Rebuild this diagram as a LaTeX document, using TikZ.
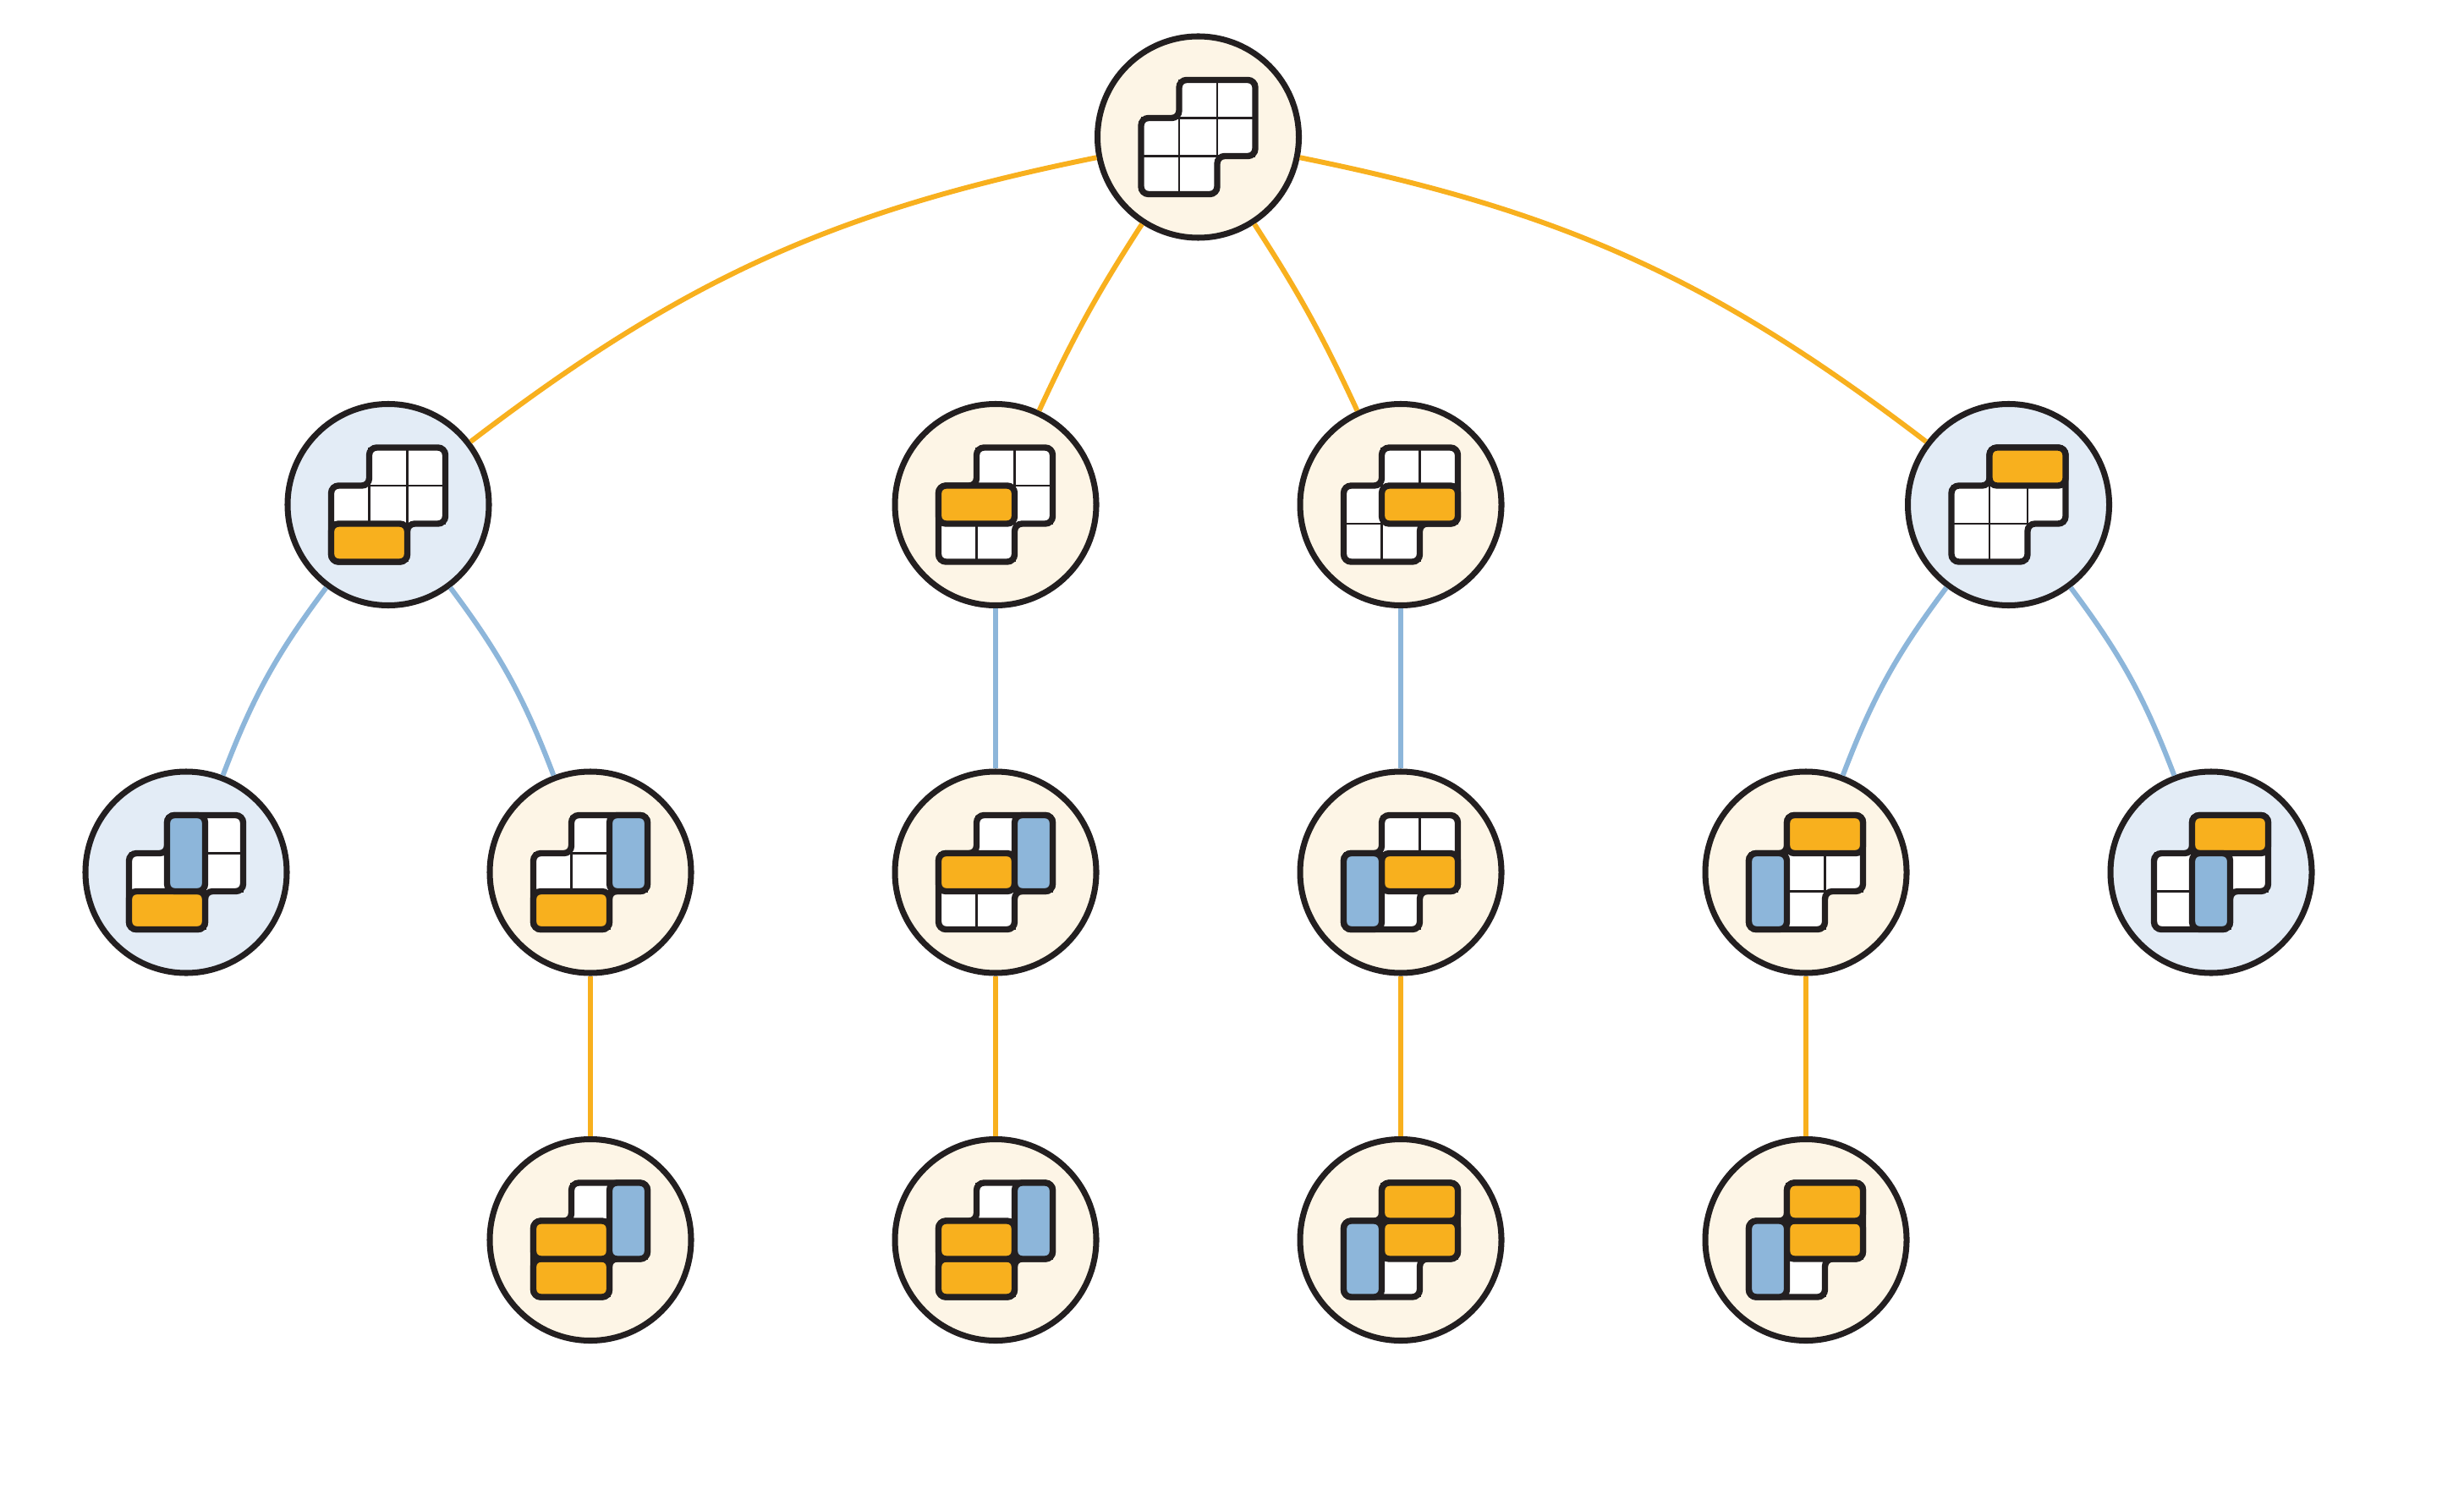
\documentclass[tikz,border=0pt]{standalone}
\usetikzlibrary{arrows.meta}
\definecolor{tbcream}{HTML}{FDF5E6}
\definecolor{tbpale}{HTML}{E3ECF6}
\definecolor{tborange}{HTML}{F8B01E}
\definecolor{tbblue}{HTML}{8DB6DA}
\definecolor{tbink}{HTML}{231F20}

% empty 7-cell board centred on a node, #2 = pieces laid on it
\newcommand{\tilingboard}[2]{%
  \begin{scope}[shift={(#1.center)}, x=0.45cm, y=0.45cm, shift={(-1.5,-1.5)}]
    \fill[white] (0,0) -- (2,0) -- (2,1) -- (3,1) -- (3,3) -- (1,3) -- (1,2) -- (0,2) -- cycle;
    \draw[gridline] (1,0) -- (1,3) (2,0) -- (2,3) (0,1) -- (3,1) (0,2) -- (3,2);
    \draw[tile] (0,0) -- (2,0) -- (2,1) -- (3,1) -- (3,3) -- (1,3) -- (1,2) -- (0,2) -- cycle;
    #2
  \end{scope}}
\newcommand{\hpiece}[2]{\draw[tile, fill=tborange] (#1,#2) rectangle ++(2,1);}
\newcommand{\vpiece}[2]{\draw[tile, fill=tbblue] (#1,#2) rectangle ++(1,2);}

\begin{document}
\begin{tikzpicture}[
    pnode/.style={circle, draw=tbink, line width=2pt, minimum size=2.38cm, inner sep=0pt, fill=tbcream},
    dnode/.style={pnode, fill=tbpale},
    hlink/.style={draw=tborange, line width=1.7pt},
    vlink/.style={draw=tbblue, line width=1.7pt},
    tile/.style={draw=tbink, line width=2.1pt, rounded corners=2.5pt},
    gridline/.style={draw=tbink, line width=0.6pt}]
  \useasboundingbox (0,0) rectangle (29.13,-17.67);

  % level 0 and 1
  \node[pnode] (r) at (14.165,-1.62) {};
  \node[dnode] (a) at (4.59,-5.965) {};
  \node[pnode] (b) at (11.77,-5.965) {};
  \node[pnode] (c) at (16.56,-5.965) {};
  \node[dnode] (d) at (23.745,-5.965) {};
  % level 2
  \node[dnode] (a1) at (2.20,-10.31) {};
  \node[pnode] (a2) at (6.98,-10.31) {};
  \node[pnode] (b1) at (11.77,-10.31) {};
  \node[pnode] (c1) at (16.56,-10.31) {};
  \node[pnode] (d1) at (21.35,-10.31) {};
  \node[dnode] (d2) at (26.14,-10.31) {};
  % level 3
  \node[pnode] (a21) at (6.98,-14.655) {};
  \node[pnode] (b11) at (11.77,-14.655) {};
  \node[pnode] (c11) at (16.56,-14.655) {};
  \node[pnode] (d11) at (21.35,-14.655) {};

  \draw[hlink] (r) to[bend right=13] (a);
  \draw[hlink] (r) to[bend right=4] (b);
  \draw[hlink] (r) to[bend left=4] (c);
  \draw[hlink] (r) to[bend left=13] (d);
  \draw[vlink] (a) to[bend right=8] (a1);
  \draw[vlink] (a) to[bend left=8] (a2);
  \draw[vlink] (b) -- (b1);
  \draw[vlink] (c) -- (c1);
  \draw[vlink] (d) to[bend right=8] (d1);
  \draw[vlink] (d) to[bend left=8] (d2);
  \draw[hlink] (a2) -- (a21);
  \draw[hlink] (b1) -- (b11);
  \draw[hlink] (c1) -- (c11);
  \draw[hlink] (d1) -- (d11);

  \tilingboard{r}{}
  \tilingboard{a}{\hpiece{0}{0}}
  \tilingboard{b}{\hpiece{0}{1}}
  \tilingboard{c}{\hpiece{1}{1}}
  \tilingboard{d}{\hpiece{1}{2}}
  \tilingboard{a1}{\hpiece{0}{0}\vpiece{1}{1}}
  \tilingboard{a2}{\hpiece{0}{0}\vpiece{2}{1}}
  \tilingboard{b1}{\hpiece{0}{1}\vpiece{2}{1}}
  \tilingboard{c1}{\hpiece{1}{1}\vpiece{0}{0}}
  \tilingboard{d1}{\hpiece{1}{2}\vpiece{0}{0}}
  \tilingboard{d2}{\hpiece{1}{2}\vpiece{1}{0}}
  \tilingboard{a21}{\hpiece{0}{0}\hpiece{0}{1}\vpiece{2}{1}}
  \tilingboard{b11}{\hpiece{0}{0}\hpiece{0}{1}\vpiece{2}{1}}
  \tilingboard{c11}{\hpiece{1}{1}\hpiece{1}{2}\vpiece{0}{0}}
  \tilingboard{d11}{\hpiece{1}{1}\hpiece{1}{2}\vpiece{0}{0}}
\end{tikzpicture}
\end{document}
